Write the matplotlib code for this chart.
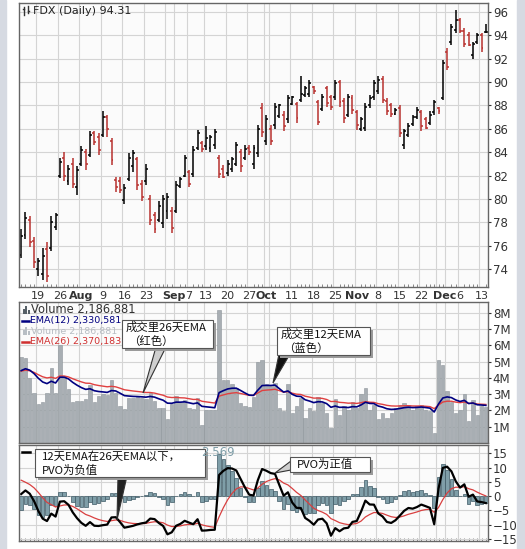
import numpy as np
import pandas as pd
import matplotlib.pyplot as plt
import matplotlib.transforms as mtransforms
from matplotlib.patches import Rectangle, Polygon

plt.rcParams['font.family'] = ['DejaVu Sans']
cjk = ['Noto Sans CJK SC', 'DejaVu Sans']

# 交易日 (2010-07-13 ~ 2010-12-14, 去掉劳动节和感恩节)
days = pd.bdate_range('2010-07-13', '2010-12-14')
days = days[~days.isin(pd.to_datetime(['2010-09-06', '2010-11-25']))]

high = [77.4, 78.9, 78.5, 76.7, 74.9, 75.8, 76.3, 78.5, 78.8, 83.5,
        84.0, 82.9, 83.5, 82.8, 84.5, 84.3, 85.8, 85.8, 85.6, 87.5,
        87.2, 85.2, 81.9, 81.9, 81.3, 83.9, 84.2, 83.6, 81.6, 83.0,
        80.3, 78.9, 79.8, 80.3, 80.5, 79.3, 81.5, 81.9, 83.8, 82.5,
        84.5, 85.9, 85.0, 86.2, 85.5, 86.0, 83.8, 82.9, 83.3, 83.6,
        84.9, 84.3, 84.6, 84.6, 84.6, 86.3, 88.2, 87.2, 86.3, 88.2,
        88.1, 87.5, 88.9, 88.8, 88.3, 90.5, 89.7, 90.2, 89.7, 88.5,
        89.0, 89.7, 88.9, 90.2, 90.2, 88.6, 89.0, 88.9, 87.6, 87.0,
        88.2, 88.9, 90.2, 90.5, 90.5, 88.6, 88.2, 87.8, 88.0, 86.0,
        86.5, 87.2, 87.9, 87.6, 87.0, 87.5, 88.5, 87.9, 91.9, 92.9,
        95.0, 96.2, 95.5, 94.6, 94.3, 93.4, 94.2, 94.2, 95.0]
low = [74.9, 76.6, 75.9, 74.1, 73.4, 73.1, 72.9, 75.5, 77.3, 81.8,
       81.5, 81.2, 80.9, 80.3, 82.8, 82.5, 83.6, 84.6, 83.8, 85.3,
       85.3, 82.9, 80.6, 80.5, 79.6, 81.5, 82.3, 80.8, 79.8, 81.2,
       77.8, 77.1, 78.0, 77.5, 78.3, 77.1, 78.8, 80.9, 81.9, 81.0,
       81.9, 84.2, 84.0, 84.2, 84.0, 84.3, 81.8, 81.8, 82.0, 82.3,
       82.8, 82.3, 83.3, 83.8, 82.6, 83.6, 85.3, 84.6, 84.6, 86.0,
       86.9, 85.8, 86.5, 88.0, 86.5, 88.3, 88.7, 88.7, 89.0, 86.3,
       87.5, 87.9, 87.6, 88.5, 87.9, 86.5, 87.0, 87.3, 85.9, 85.8,
       85.8, 87.8, 88.5, 89.0, 88.2, 87.2, 87.0, 87.2, 85.3, 84.3,
       85.3, 86.2, 86.8, 85.8, 86.0, 86.3, 87.2, 87.3, 88.5, 91.0,
       93.2, 94.2, 94.2, 93.0, 93.1, 92.0, 93.3, 92.6, 94.2]
opens = [75.2, 76.9, 78.2, 76.4, 74.0, 73.6, 75.7, 75.8, 77.6, 82.0,
         83.5, 81.5, 83.0, 81.0, 83.0, 84.0, 83.8, 85.6, 85.3, 85.5,
         87.0, 85.0, 81.6, 81.5, 79.9, 81.7, 82.8, 83.4, 81.3, 81.5,
         80.0, 78.6, 78.2, 77.9, 79.0, 79.0, 79.0, 81.1, 82.0, 82.3,
         82.1, 84.4, 84.8, 84.5, 84.4, 84.6, 83.5, 82.6, 82.2, 82.6,
         83.0, 84.0, 83.5, 84.4, 83.0, 83.9, 87.8, 85.0, 86.0, 86.3,
         87.1, 87.2, 86.8, 88.1, 88.1, 88.5, 88.9, 89.0, 89.6, 88.3,
         87.7, 89.5, 88.7, 88.7, 90.0, 88.4, 87.2, 88.6, 87.4, 86.0,
         86.1, 88.0, 88.7, 89.2, 90.3, 88.4, 88.0, 87.3, 87.8, 84.6,
         85.5, 86.4, 87.0, 87.4, 86.8, 86.5, 87.4, 87.8, 88.6, 92.6,
         93.4, 94.5, 95.3, 94.4, 94.0, 92.3, 93.4, 94.0, 94.3]
closes = [76.8, 78.4, 76.3, 74.6, 74.7, 75.1, 73.4, 78.0, 78.6, 83.2,
          82.0, 82.6, 81.3, 82.5, 84.2, 83.0, 85.5, 84.9, 84.2, 87.0,
          86.0, 83.3, 81.0, 80.8, 80.9, 83.5, 83.9, 81.2, 80.2, 82.6,
          78.2, 77.4, 79.4, 80.0, 80.2, 77.5, 81.2, 81.7, 83.5, 81.3,
          84.2, 85.6, 84.3, 85.2, 85.3, 85.7, 82.1, 81.9, 83.0, 83.4,
          84.6, 82.8, 84.3, 84.0, 84.4, 86.0, 85.7, 86.8, 85.0, 87.9,
          88.0, 86.2, 88.6, 88.7, 86.9, 89.0, 89.5, 89.9, 89.2, 86.6,
          88.7, 88.2, 87.9, 89.9, 88.3, 86.9, 88.7, 87.6, 86.3, 86.8,
          87.9, 88.6, 89.9, 90.2, 88.5, 87.5, 87.3, 87.6, 85.6, 85.8,
          86.2, 87.0, 87.6, 86.2, 86.1, 87.2, 88.3, 87.5, 91.6, 91.3,
          94.7, 95.3, 94.4, 93.3, 93.2, 93.3, 94.0, 92.9, 94.31]

# 成交量 (百万股)
volume = [5.28, 5.2, 4.0, 3.1, 2.4, 2.5, 3.1, 4.6, 3.1, 6.0,
          4.05, 3.35, 2.55, 2.6, 2.6, 2.7, 3.55, 2.55, 2.9, 3.0,
          2.95, 3.85, 3.05, 2.3, 2.1, 2.75, 2.75, 2.8, 2.75, 2.7,
          3.1, 2.6, 2.15, 2.15, 1.45, 2.4, 2.9, 2.5, 2.65, 2.15,
          2.1, 2.75, 1.1, 2.05, 2.05, 2.0, 8.2, 3.9, 3.9, 3.6,
          3.4, 2.45, 2.25, 2.2, 2.85, 5.0, 5.1, 3.6, 3.5, 3.7,
          2.15, 1.95, 3.6, 1.85, 2.25, 2.75, 1.55, 2.15, 1.95, 2.85,
          2.45, 1.85, 0.95, 2.7, 1.75, 2.25, 2.05, 2.55, 2.15, 3.0,
          3.4, 2.05, 2.35, 1.45, 1.85, 1.55, 1.85, 2.15, 2.35, 2.45,
          2.35, 2.05, 2.25, 2.35, 2.0, 1.95, 0.6, 5.1, 4.8, 3.2,
          2.55, 1.85, 2.05, 3.0, 1.35, 2.65, 1.75, 2.25, 2.19]

# 图表左边之前的EMA起始值
ema12_seed, ema26_seed, signal_seed = 4.3, 4.35, 6.8

tick_dates = ['2010-07-19', '2010-07-26', '2010-08-02', '2010-08-09', '2010-08-16',
              '2010-08-23', '2010-09-01', '2010-09-07', '2010-09-13', '2010-09-20',
              '2010-09-27', '2010-10-01', '2010-10-11', '2010-10-18', '2010-10-25',
              '2010-11-01', '2010-11-08', '2010-11-15', '2010-11-22', '2010-12-01',
              '2010-12-06', '2010-12-13']
tick_labels = ['19', '26', 'Aug', '9', '16', '23', 'Sep', '7', '13', '20', '27',
               'Oct', '11', '18', '25', 'Nov', '8', '15', '22', 'Dec', '6', '13']
grid_dates = ['2010-07-19', '2010-07-26', '2010-08-02', '2010-08-09', '2010-08-16',
              '2010-08-23', '2010-08-30', '2010-09-01', '2010-09-07', '2010-09-13',
              '2010-09-20', '2010-09-27', '2010-10-01', '2010-10-04', '2010-10-11',
              '2010-10-18', '2010-10-25', '2010-11-01', '2010-11-08', '2010-11-15',
              '2010-11-22', '2010-11-29', '2010-12-01', '2010-12-06', '2010-12-13']


def ema(values, span, seed):
    a = 2 / (span + 1)
    out = []
    prev = seed
    for v in values:
        prev = prev + a * (v - prev)
        out.append(prev)
    return np.array(out)


x = np.arange(len(days))
closes_a = np.array(closes)
prev = np.r_[closes_a[0] - 1, closes_a[:-1]]
bar_colors = np.where(closes_a < prev, '#b8312f', '#000000')

vol = np.array(volume)
ema12 = ema(vol, 12, ema12_seed)
ema26 = ema(vol, 26, ema26_seed)
pvo = (ema12 - ema26) / ema26 * 100
signal = ema(pvo, 9, signal_seed)
hist = pvo - signal

W, H = 525, 549
fig = plt.figure(figsize=(W / 100, H / 100), dpi=100)
fig.add_artist(Rectangle((0, 0), 6 / W, 1, transform=fig.transFigure, color='#d6dae2', zorder=0))
fig.add_artist(Rectangle((517 / W, 0), 8 / W, 1, transform=fig.transFigure, color='#d6dae2', zorder=0))


def px_axes(l, t, r, b):
    return fig.add_axes([l / W, 1 - b / H, (r - l) / W, (b - t) / H])


ax1 = px_axes(19, 3, 488, 287)
ax2 = px_axes(19, 302, 488, 443)
ax3 = px_axes(19, 445, 488, 541)

tick_pos = [days.get_loc(pd.Timestamp(d)) for d in tick_dates]
grid_pos = [days.get_loc(pd.Timestamp(d)) for d in grid_dates]

for ax in (ax1, ax2, ax3):
    ax.set_facecolor('#fbfbfb')
    ax.set_xlim(-0.5, len(days) - 0.5)
    for p in grid_pos:
        ax.axvline(p - 0.5, color='#d4d4d4', lw=0.8, zorder=0)
    ax.grid(axis='y', color='#d4d4d4', lw=0.8)
    ax.set_axisbelow(True)
    ax.yaxis.tick_right()
    ax.tick_params(axis='y', labelsize=8.5, colors='#333333', length=2, pad=1.5)
    ax.set_xticks(x, minor=True)
    ax.tick_params(axis='x', which='minor', direction='in', length=2.5, color='#777777')
    for s in ax.spines.values():
        s.set_color('#666666')
        s.set_linewidth(1)

# 价格 OHLC
ax1.vlines(x, low, high, colors=bar_colors, lw=1.1)
ax1.hlines(opens, x - 0.45, x, colors=bar_colors, lw=1.1)
ax1.hlines(closes, x, x + 0.45, colors=bar_colors, lw=1.1)
ax1.set_ylim(72.46, 96.77)
ax1.set_yticks(np.arange(74, 97, 2))
ax1.set_xticks(tick_pos)
ax1.set_xticklabels(tick_labels)
ax1.tick_params(axis='x', which='major', length=0, pad=3, labelsize=8, colors='#333333')
shift = mtransforms.ScaledTranslation(-2 / 100, 0, fig.dpi_scale_trans)
for lab in ax1.get_xticklabels():
    if lab.get_text().isalpha():
        lab.set_fontweight('bold')
        if lab.get_text() in ('Sep', 'Dec'):
            lab.set_transform(lab.get_transform() + shift)

# 成交量
ax2.bar(x, vol, width=0.78, color='#a8aeb3', edgecolor='#8e959b', lw=0.4)
ax2.plot(x, ema26, color='#e04040', lw=1.0)
ax2.plot(x, ema12, color='#000080', lw=1.2)
ax2.set_ylim(0, 8.67)
ax2.set_yticks(range(1, 9))
ax2.set_yticklabels([f'{v}M' for v in range(1, 9)])
ax2.set_xticks([])

# PVO
ax3.bar(x, hist, width=0.85, color='#7f9ea8', edgecolor='#3f5a66', lw=0.5)
ax3.plot(x, signal, color='#d94040', lw=0.9)
ax3.plot(x, pvo, color='#000000', lw=1.6)
ax3.set_ylim(-15.7, 17.9)
ax3.set_yticks(np.arange(-15, 16, 5))
ax3.set_xticks([])

# 文字和标注层 (像素坐标)
ov = fig.add_axes([0, 0, 1, 1])
ov.set_xlim(0, W)
ov.set_ylim(H, 0)
ov.axis('off')
ov.set_zorder(10)

# 图标
ov.plot([24, 24], [7, 15], color='#333333', lw=1)
ov.plot([28, 28], [6, 13], color='#333333', lw=1)
ov.plot([23, 24], [9, 9], color='#333', lw=1)
ov.plot([28, 29], [11, 11], color='#333', lw=1)
ov.text(33, 11, 'FDX (Daily) 94.31', fontsize=8, color='#222222', va='center')

for y, c in [(310, '#555f66'), (331, '#b8bec4')]:
    for k, hgt in enumerate([5, 8, 4]):
        ov.add_patch(Rectangle((23 + k * 2.4, y + 4 - hgt), 1.8, hgt, color=c, lw=0))
ov.text(31, 310, 'Volume 2,186,881', fontsize=8.3, color='#333333', va='center')
ov.plot([22, 29], [321, 321], color='#000080', lw=1.8)
ov.text(30, 321, 'EMA(12) 2,330,581', fontsize=6.8, color='#000080', va='center')
ov.text(31, 331.5, 'Volume 2,186,881', fontsize=6.8, color='#b8bec4', va='center')
ov.plot([22, 29], [341.5, 341.5], color='#d03030', lw=1.8)
ov.text(30, 341.5, 'EMA(26) 2,370,183', fontsize=6.8, color='#d03030', va='center')

ov.plot([22, 30], [452, 452], color='#000000', lw=1.8)
ov.text(235, 452, '2.569', fontsize=8.5, color='#7f9ea8', va='center', ha='right')


def callout(box, lines, wedge, wedge_fc):
    l, t, r, b = box
    ov.add_patch(Polygon(wedge, closed=True, fc=wedge_fc, ec='#333333', lw=0.8))
    ov.add_patch(Rectangle((l + 3, t + 3), r - l, b - t, fc='#9a9a9a', ec='none'))
    ov.add_patch(Rectangle((l, t), r - l, b - t, fc='white', ec='#555555', lw=0.8))
    for (tx, ty, s) in lines:
        ov.text(tx, ty, s, fontsize=8.2, family=cjk, color='#111111', va='center')


callout((122, 320, 213, 348),
        [(126, 327, '成交里26天EMA'), (128, 341, '（红色）')],
        [(156, 347), (166, 347), (143, 393)], '#cfcfcf')
callout((277, 327, 370, 355),
        [(281, 334, '成交里12天EMA'), (283, 348, '（蓝色）')],
        [(279, 354), (290, 354), (273, 383)], '#111111')
callout((35, 449, 205, 477),
        [(42, 456, '12天EMA在26天EMA以下，'), (42, 470, 'PVO为负值')],
        [(118, 476), (127, 476), (117, 520)], '#222222')
callout((290, 457, 370, 472),
        [(297, 464.5, 'PVO为正值')],
        [(291, 461), (291, 470), (275, 473)], '#cfcfcf')

fig.savefig('out.png', dpi=100)
